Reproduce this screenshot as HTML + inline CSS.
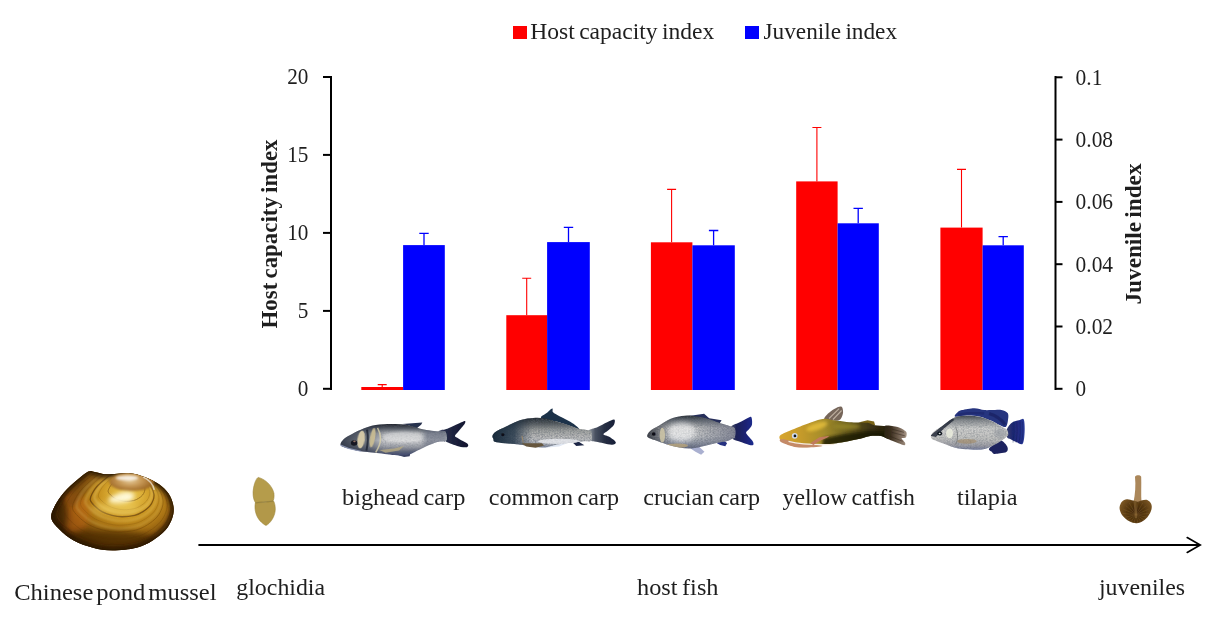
<!DOCTYPE html>
<html lang="en"><head><meta charset="utf-8"><title>Host capacity index and juvenile index</title>
<style>
html,body{margin:0;padding:0;background:#fff;}
body{width:1215px;height:621px;overflow:hidden;}
svg{display:block;}
text{font-family:"Liberation Serif",serif;fill:#1e1e1e;word-spacing:-1.5px;}
.b{font-weight:bold;}
</style></head><body>
<svg width="1215" height="621" viewBox="0 0 1215 621">
<rect width="1215" height="621" fill="#fff"/>

<defs>
<filter id="nz" x="0" y="0" width="100%" height="100%"><feTurbulence type="fractalNoise" baseFrequency="0.07 0.09" numOctaves="2" seed="7"/><feColorMatrix type="matrix" values="0 0 0 0 0.12  0 0 0 0 0.14  0 0 0 0 0.17  1.6 1.6 0 0 -1.35"/></filter>
<filter id="b2" x="-20%" y="-20%" width="140%" height="140%"><feGaussianBlur stdDeviation="2.2"/></filter>
<filter id="b6" x="-30%" y="-30%" width="160%" height="160%"><feGaussianBlur stdDeviation="6"/></filter>
<filter id="b12" x="-40%" y="-40%" width="180%" height="180%"><feGaussianBlur stdDeviation="12"/></filter>
<filter id="b20" x="-50%" y="-50%" width="200%" height="200%"><feGaussianBlur stdDeviation="20"/></filter>
<clipPath id="mclip"><path d="M70.0,360.0 C65.8,335.0 81.7,306.7 95.0,280.0 C108.3,253.3 127.5,225.8 150.0,200.0 C172.5,174.2 205.0,146.3 230.0,125.0 C255.0,103.7 281.7,80.3 300.0,72.0 C318.3,63.7 323.3,72.3 340.0,75.0 C356.7,77.7 376.7,86.3 400.0,88.0 C423.3,89.7 453.3,86.0 480.0,85.0 C506.7,84.0 531.7,78.7 560.0,82.0 C588.3,85.3 620.0,93.7 650.0,105.0 C680.0,116.3 715.0,132.5 740.0,150.0 C765.0,167.5 785.0,186.7 800.0,210.0 C815.0,233.3 826.3,265.0 830.0,290.0 C833.7,315.0 830.3,335.8 822.0,360.0 C813.7,384.2 800.3,411.7 780.0,435.0 C759.7,458.3 730.0,481.7 700.0,500.0 C670.0,518.3 641.7,534.7 600.0,545.0 C558.3,555.3 495.0,562.0 450.0,562.0 C405.0,562.0 370.0,555.3 330.0,545.0 C290.0,534.7 245.0,519.2 210.0,500.0 C175.0,480.8 143.3,453.3 120.0,430.0 C96.7,406.7 74.2,385.0 70.0,360.0Z"/></clipPath>
<radialGradient id="mg" gradientUnits="userSpaceOnUse" cx="540" cy="200" r="470" gradientTransform="translate(0,60) scale(1,0.8)"><stop offset="0" stop-color="#f4dc84" stop-opacity="1"/><stop offset="0.15" stop-color="#e2b840" stop-opacity="1"/><stop offset="0.36" stop-color="#c99420" stop-opacity="1"/><stop offset="0.58" stop-color="#a87214" stop-opacity="1"/><stop offset="0.8" stop-color="#74460a" stop-opacity="1"/><stop offset="1" stop-color="#3a2004" stop-opacity="1"/></radialGradient>
<radialGradient id="ug" gradientUnits="userSpaceOnUse" cx="560" cy="125" r="140" gradientTransform="translate(0,62) scale(1,0.5)"><stop offset="0" stop-color="#e8cfa0" stop-opacity="1"/><stop offset="0.5" stop-color="#c89a58" stop-opacity="1"/><stop offset="1" stop-color="#a06a26" stop-opacity="1"/></radialGradient>
<radialGradient id="jg" gradientUnits="userSpaceOnUse" cx="275" cy="420" r="150"><stop offset="0" stop-color="#3a2206" stop-opacity="1"/><stop offset="0.55" stop-color="#563810" stop-opacity="1"/><stop offset="1" stop-color="#7a5624" stop-opacity="1"/></radialGradient>
<clipPath id="jc"><path d="M130.0,370.0 C132.5,355.8 139.2,336.2 150.0,325.0 C160.8,313.8 178.3,304.7 195.0,303.0 C211.7,301.3 234.2,311.3 250.0,315.0 C265.8,318.7 276.7,325.5 290.0,325.0 C303.3,324.5 315.8,314.5 330.0,312.0 C344.2,309.5 361.7,304.5 375.0,310.0 C388.3,315.5 403.8,330.8 410.0,345.0 C416.2,359.2 416.2,377.5 412.0,395.0 C407.8,412.5 397.0,433.3 385.0,450.0 C373.0,466.7 357.5,483.8 340.0,495.0 C322.5,506.2 300.8,516.2 280.0,517.0 C259.2,517.8 235.0,510.3 215.0,500.0 C195.0,489.7 173.3,470.0 160.0,455.0 C146.7,440.0 140.0,424.2 135.0,410.0 C130.0,395.8 127.5,384.2 130.0,370.0Z"/></clipPath>
<pattern id="sc" width="26" height="22" patternUnits="userSpaceOnUse"><path d="M0,0 Q16,11 0,22 M13,-11 Q29,0 13,11 M13,11 Q29,22 13,33" stroke="#262c34" stroke-width="3.5" fill="none" opacity="0.4"/></pattern>
<clipPath id="c1"><path d="M85.0,365.0 C80.0,353.0 97.5,331.3 110.0,318.0 C122.5,304.7 136.7,298.0 160.0,285.0 C183.3,272.0 215.0,253.7 250.0,240.0 C285.0,226.3 328.3,210.5 370.0,203.0 C411.7,195.5 458.3,195.5 500.0,195.0 C541.7,194.5 583.3,194.5 620.0,200.0 C656.7,205.5 690.0,220.5 720.0,228.0 C750.0,235.5 773.3,240.5 800.0,245.0 C826.7,249.5 858.3,253.8 880.0,255.0 C901.7,256.2 919.2,246.2 930.0,252.0 C940.8,257.8 943.3,277.0 945.0,290.0 C946.7,303.0 952.5,321.7 940.0,330.0 C927.5,338.3 896.7,332.5 870.0,340.0 C843.3,347.5 810.0,361.7 780.0,375.0 C750.0,388.3 711.7,409.5 690.0,420.0 C668.3,430.5 671.7,433.0 650.0,438.0 C628.3,443.0 601.7,451.0 560.0,450.0 C518.3,449.0 451.7,437.8 400.0,432.0 C348.3,426.2 293.3,422.0 250.0,415.0 C206.7,408.0 167.5,398.3 140.0,390.0 C112.5,381.7 90.0,377.0 85.0,365.0Z"/></clipPath>
<linearGradient id="f1" x1="0" y1="0" x2="0" y2="1"><stop offset="0" stop-color="#20252e" stop-opacity="1"/><stop offset="0.12" stop-color="#4c525c" stop-opacity="1"/><stop offset="0.3" stop-color="#a6a9ae" stop-opacity="1"/><stop offset="0.52" stop-color="#cbccce" stop-opacity="1"/><stop offset="0.72" stop-color="#9b9ea6" stop-opacity="1"/><stop offset="0.88" stop-color="#5e6478" stop-opacity="1"/><stop offset="1" stop-color="#3e4668" stop-opacity="1"/></linearGradient>
<linearGradient id="f1h" x1="0" y1="0" x2="1" y2="0"><stop offset="0" stop-color="#1c2434" stop-opacity="0.85"/><stop offset="0.6" stop-color="#2a3244" stop-opacity="0.55"/><stop offset="1" stop-color="#2a3244" stop-opacity="0"/></linearGradient>
<linearGradient id="t1" x1="0" y1="0" x2="1" y2="0"><stop offset="0" stop-color="#70768a" stop-opacity="1"/><stop offset="0.2" stop-color="#262c48" stop-opacity="1"/><stop offset="1" stop-color="#10142e" stop-opacity="1"/></linearGradient>
<clipPath id="c2"><path d="M100.0,290.0 C103.7,280.0 113.3,266.7 130.0,255.0 C146.7,243.3 166.7,235.5 200.0,220.0 C233.3,204.5 291.7,174.5 330.0,162.0 C368.3,149.5 398.3,147.3 430.0,145.0 C461.7,142.7 488.3,143.0 520.0,148.0 C551.7,153.0 586.7,165.5 620.0,175.0 C653.3,184.5 690.0,195.5 720.0,205.0 C750.0,214.5 773.3,225.3 800.0,232.0 C826.7,238.7 862.5,239.5 880.0,245.0 C897.5,250.5 901.7,250.8 905.0,265.0 C908.3,279.2 909.2,318.3 900.0,330.0 C890.8,341.7 873.3,332.5 850.0,335.0 C826.7,337.5 785.0,342.5 760.0,345.0 C735.0,347.5 723.3,346.7 700.0,350.0 C676.7,353.3 648.3,359.2 620.0,365.0 C591.7,370.8 561.7,382.8 530.0,385.0 C498.3,387.2 463.3,381.8 430.0,378.0 C396.7,374.2 368.3,366.7 330.0,362.0 C291.7,357.3 235.0,354.0 200.0,350.0 C165.0,346.0 135.3,343.8 120.0,338.0 C104.7,332.2 111.3,323.0 108.0,315.0 C104.7,307.0 96.3,300.0 100.0,290.0Z"/></clipPath>
<linearGradient id="f2" x1="0" y1="0" x2="0" y2="1"><stop offset="0" stop-color="#1e2630" stop-opacity="1"/><stop offset="0.18" stop-color="#50565a" stop-opacity="1"/><stop offset="0.42" stop-color="#a6a8a6" stop-opacity="1"/><stop offset="0.68" stop-color="#cacaca" stop-opacity="1"/><stop offset="0.88" stop-color="#b4b8c2" stop-opacity="1"/><stop offset="1" stop-color="#7c86a0" stop-opacity="1"/></linearGradient>
<linearGradient id="f2h" x1="0" y1="0" x2="1" y2="0"><stop offset="0" stop-color="#0e2234" stop-opacity="0.95"/><stop offset="0.55" stop-color="#182c40" stop-opacity="0.75"/><stop offset="1" stop-color="#1c2a3c" stop-opacity="0"/></linearGradient>
<linearGradient id="t2" x1="0" y1="0" x2="1" y2="0"><stop offset="0" stop-color="#9aa0a8" stop-opacity="1"/><stop offset="0.25" stop-color="#4a5262" stop-opacity="1"/><stop offset="0.6" stop-color="#262e42" stop-opacity="1"/><stop offset="1" stop-color="#161e38" stop-opacity="1"/></linearGradient>
<clipPath id="c3"><path d="M140.0,285.0 C143.3,275.0 155.0,257.5 170.0,245.0 C185.0,232.5 203.3,225.5 230.0,210.0 C256.7,194.5 298.3,165.3 330.0,152.0 C361.7,138.7 391.7,134.0 420.0,130.0 C448.3,126.0 466.7,124.7 500.0,128.0 C533.3,131.3 583.3,140.5 620.0,150.0 C656.7,159.5 686.7,174.2 720.0,185.0 C753.3,195.8 798.3,206.7 820.0,215.0 C841.7,223.3 845.0,220.8 850.0,235.0 C855.0,249.2 853.3,287.2 850.0,300.0 C846.7,312.8 841.7,306.2 830.0,312.0 C818.3,317.8 801.7,329.0 780.0,335.0 C758.3,341.0 730.0,341.8 700.0,348.0 C670.0,354.2 633.3,364.7 600.0,372.0 C566.7,379.3 533.3,389.8 500.0,392.0 C466.7,394.2 433.3,390.3 400.0,385.0 C366.7,379.7 333.3,370.0 300.0,360.0 C266.7,350.0 225.0,334.2 200.0,325.0 C175.0,315.8 160.0,311.7 150.0,305.0 C140.0,298.3 136.7,295.0 140.0,285.0Z"/></clipPath>
<linearGradient id="f3" x1="0" y1="0" x2="0" y2="1"><stop offset="0" stop-color="#282e38" stop-opacity="1"/><stop offset="0.16" stop-color="#6a7078" stop-opacity="1"/><stop offset="0.38" stop-color="#cccccc" stop-opacity="1"/><stop offset="0.64" stop-color="#cacccf" stop-opacity="1"/><stop offset="0.85" stop-color="#9298a8" stop-opacity="1"/><stop offset="1" stop-color="#646a84" stop-opacity="1"/></linearGradient>
<linearGradient id="f3h" x1="0" y1="0" x2="1" y2="0"><stop offset="0" stop-color="#1a1e28" stop-opacity="0.8"/><stop offset="0.5" stop-color="#2a2e38" stop-opacity="0.45"/><stop offset="1" stop-color="#2a2e38" stop-opacity="0"/></linearGradient>
<linearGradient id="f3r" x1="0" y1="0" x2="1" y2="0"><stop offset="0" stop-color="#6a6e80" stop-opacity="0"/><stop offset="1" stop-color="#585c74" stop-opacity="0.6"/></linearGradient>
<linearGradient id="t3" x1="0" y1="0" x2="1" y2="0"><stop offset="0" stop-color="#4a506c" stop-opacity="1"/><stop offset="0.25" stop-color="#1c2258" stop-opacity="1"/><stop offset="0.7" stop-color="#1a2478" stop-opacity="1"/><stop offset="1" stop-color="#1e2c90" stop-opacity="1"/></linearGradient>
<clipPath id="c4"><path d="M80.0,290.0 C88.0,280.0 110.0,271.7 130.0,262.0 C150.0,252.3 166.7,245.3 200.0,232.0 C233.3,218.7 290.0,195.3 330.0,182.0 C370.0,168.7 408.3,154.8 440.0,152.0 C471.7,149.2 490.0,160.7 520.0,165.0 C550.0,169.3 590.0,175.2 620.0,178.0 C650.0,180.8 671.7,180.8 700.0,182.0 C728.3,183.2 765.0,181.2 790.0,185.0 C815.0,188.8 825.0,200.5 850.0,205.0 C875.0,209.5 919.2,208.7 940.0,212.0 C960.8,215.3 969.2,208.7 975.0,225.0 C980.8,241.3 980.8,296.2 975.0,310.0 C969.2,323.8 952.5,311.0 940.0,308.0 C927.5,305.0 918.3,295.0 900.0,292.0 C881.7,289.0 853.3,287.8 830.0,290.0 C806.7,292.2 781.7,300.0 760.0,305.0 C738.3,310.0 726.7,314.2 700.0,320.0 C673.3,325.8 630.0,334.7 600.0,340.0 C570.0,345.3 546.7,348.7 520.0,352.0 C493.3,355.3 476.7,355.0 440.0,360.0 C403.3,365.0 340.0,379.2 300.0,382.0 C260.0,384.8 231.7,383.2 200.0,377.0 C168.3,370.8 129.7,354.2 110.0,345.0 C90.3,335.8 87.0,331.2 82.0,322.0 C77.0,312.8 72.0,300.0 80.0,290.0Z"/></clipPath>
<linearGradient id="f4" x1="0" y1="0" x2="1" y2="0"><stop offset="0" stop-color="#d8a630" stop-opacity="1"/><stop offset="0.2" stop-color="#c49a2a" stop-opacity="1"/><stop offset="0.4" stop-color="#a48c2a" stop-opacity="1"/><stop offset="0.56" stop-color="#7a6c22" stop-opacity="1"/><stop offset="0.75" stop-color="#4a4016" stop-opacity="1"/><stop offset="0.9" stop-color="#2e2610" stop-opacity="1"/><stop offset="1" stop-color="#2a2210" stop-opacity="1"/></linearGradient>
<linearGradient id="t4" x1="0" y1="0" x2="1" y2="0"><stop offset="0" stop-color="#2a2210" stop-opacity="1"/><stop offset="0.3" stop-color="#3a2e1e" stop-opacity="1"/><stop offset="0.6" stop-color="#6a5a4a" stop-opacity="1"/><stop offset="0.85" stop-color="#8e7c6e" stop-opacity="1"/><stop offset="1" stop-color="#a89888" stop-opacity="1"/></linearGradient>
<clipPath id="c5"><path d="M130.0,285.0 C134.7,275.8 145.0,262.5 160.0,250.0 C175.0,237.5 193.3,228.0 220.0,210.0 C246.7,192.0 286.7,155.7 320.0,142.0 C353.3,128.3 386.7,129.2 420.0,128.0 C453.3,126.8 486.7,128.0 520.0,135.0 C553.3,142.0 590.0,156.7 620.0,170.0 C650.0,183.3 679.2,203.3 700.0,215.0 C720.8,226.7 735.8,229.2 745.0,240.0 C754.2,250.8 755.8,270.0 755.0,280.0 C754.2,290.0 749.2,291.7 740.0,300.0 C730.8,308.3 716.7,319.2 700.0,330.0 C683.3,340.8 660.0,354.7 640.0,365.0 C620.0,375.3 603.3,385.8 580.0,392.0 C556.7,398.2 538.3,402.0 500.0,402.0 C461.7,402.0 395.0,400.3 350.0,392.0 C305.0,383.7 263.3,363.7 230.0,352.0 C196.7,340.3 166.3,329.8 150.0,322.0 C133.7,314.2 135.3,311.2 132.0,305.0 C128.7,298.8 125.3,294.2 130.0,285.0Z"/></clipPath>
<linearGradient id="f5" x1="0" y1="0" x2="0" y2="1"><stop offset="0" stop-color="#424a50" stop-opacity="1"/><stop offset="0.14" stop-color="#8c9094" stop-opacity="1"/><stop offset="0.38" stop-color="#d6d6d4" stop-opacity="1"/><stop offset="0.68" stop-color="#c8c8c6" stop-opacity="1"/><stop offset="0.88" stop-color="#a2a2aa" stop-opacity="1"/><stop offset="1" stop-color="#7880a0" stop-opacity="1"/></linearGradient>
<linearGradient id="t5" x1="0" y1="0" x2="1" y2="0"><stop offset="0" stop-color="#3a4270" stop-opacity="1"/><stop offset="0.3" stop-color="#1e2870" stop-opacity="1"/><stop offset="0.8" stop-color="#222e88" stop-opacity="1"/><stop offset="1" stop-color="#3040a0" stop-opacity="1"/></linearGradient>
</defs>

<rect x="361.3" y="387.0" width="41.8" height="3.0" fill="#ff0000"/>
<rect x="403.1" y="245.1" width="41.7" height="144.9" fill="#0000ff"/>
<path d="M382.2,387.0 V384.6 M377.7,384.6 H386.7" stroke="#ff0000" stroke-width="1.1" fill="none"/>
<path d="M424.0,245.1 V233.4 M419.3,233.4 H428.7" stroke="#0000ff" stroke-width="1.3" fill="none"/>
<rect x="506.3" y="315.2" width="40.8" height="74.8" fill="#ff0000"/>
<rect x="547.1" y="242.1" width="42.7" height="147.9" fill="#0000ff"/>
<path d="M526.7,315.2 V278.3 M522.2,278.3 H531.2" stroke="#ff0000" stroke-width="1.1" fill="none"/>
<path d="M568.5,242.1 V227.4 M563.8,227.4 H573.2" stroke="#0000ff" stroke-width="1.3" fill="none"/>
<rect x="650.9" y="242.3" width="41.5" height="147.7" fill="#ff0000"/>
<rect x="692.4" y="245.3" width="42.4" height="144.7" fill="#0000ff"/>
<path d="M671.6,242.3 V189.4 M667.1,189.4 H676.1" stroke="#ff0000" stroke-width="1.1" fill="none"/>
<path d="M713.6,245.3 V230.5 M708.9,230.5 H718.3" stroke="#0000ff" stroke-width="1.3" fill="none"/>
<rect x="796.2" y="181.4" width="41.4" height="208.6" fill="#ff0000"/>
<rect x="837.6" y="223.3" width="41.2" height="166.7" fill="#0000ff"/>
<path d="M816.9,181.4 V127.5 M812.4,127.5 H821.4" stroke="#ff0000" stroke-width="1.1" fill="none"/>
<path d="M858.2,223.3 V208.3 M853.5,208.3 H862.9" stroke="#0000ff" stroke-width="1.3" fill="none"/>
<rect x="940.4" y="227.6" width="42.2" height="162.4" fill="#ff0000"/>
<rect x="982.6" y="245.3" width="41.2" height="144.7" fill="#0000ff"/>
<path d="M961.5,227.6 V169.4 M957.0,169.4 H966.0" stroke="#ff0000" stroke-width="1.1" fill="none"/>
<path d="M1003.2,245.3 V236.6 M998.5,236.6 H1007.9" stroke="#0000ff" stroke-width="1.3" fill="none"/>
<path d="M331,76 V390" stroke="#000" stroke-width="2" fill="none"/>
<path d="M1055.5,76 V390" stroke="#000" stroke-width="2" fill="none"/>
<path d="M323,77.0 H331" stroke="#000" stroke-width="2"/>
<path d="M323,154.9 H331" stroke="#000" stroke-width="2"/>
<path d="M323,232.9 H331" stroke="#000" stroke-width="2"/>
<path d="M323,310.9 H331" stroke="#000" stroke-width="2"/>
<path d="M323,388.8 H331" stroke="#000" stroke-width="2"/>
<path d="M1055.5,77.3 H1062.5" stroke="#000" stroke-width="2"/>
<path d="M1055.5,139.6 H1062.5" stroke="#000" stroke-width="2"/>
<path d="M1055.5,201.9 H1062.5" stroke="#000" stroke-width="2"/>
<path d="M1055.5,264.2 H1062.5" stroke="#000" stroke-width="2"/>
<path d="M1055.5,326.5 H1062.5" stroke="#000" stroke-width="2"/>
<path d="M1055.5,388.8 H1062.5" stroke="#000" stroke-width="2"/>
<text x="287.2" y="84.4" font-size="22.8" textLength="21.2" lengthAdjust="spacingAndGlyphs">20</text>
<text x="287.2" y="162.3" font-size="22.8" textLength="21.2" lengthAdjust="spacingAndGlyphs">15</text>
<text x="287.2" y="240.3" font-size="22.8" textLength="21.2" lengthAdjust="spacingAndGlyphs">10</text>
<text x="297.8" y="318.2" font-size="22.8" textLength="10.6" lengthAdjust="spacingAndGlyphs">5</text>
<text x="297.8" y="396.2" font-size="22.8" textLength="10.6" lengthAdjust="spacingAndGlyphs">0</text>
<text x="1075.6" y="84.7" font-size="22.8" textLength="26.9" lengthAdjust="spacingAndGlyphs">0.1</text>
<text x="1075.6" y="147.0" font-size="22.8" textLength="37.5" lengthAdjust="spacingAndGlyphs">0.08</text>
<text x="1075.6" y="209.3" font-size="22.8" textLength="37.5" lengthAdjust="spacingAndGlyphs">0.06</text>
<text x="1075.6" y="271.6" font-size="22.8" textLength="37.5" lengthAdjust="spacingAndGlyphs">0.04</text>
<text x="1075.6" y="333.9" font-size="22.8" textLength="37.5" lengthAdjust="spacingAndGlyphs">0.02</text>
<text x="1075.6" y="396.2" font-size="22.8" textLength="10.6" lengthAdjust="spacingAndGlyphs">0</text>
<text class="b" transform="translate(277,328.5) rotate(-90)" font-size="22.5" textLength="189" lengthAdjust="spacingAndGlyphs">Host capacity index</text>
<text class="b" transform="translate(1141,304.5) rotate(-90)" font-size="22.5" textLength="141" lengthAdjust="spacingAndGlyphs">Juvenile index</text>
<rect x="513" y="26" width="14" height="13" fill="#ff0000"/>
<rect x="745" y="26" width="14" height="13" fill="#0000ff"/>
<text x="530.3" y="39" font-size="23" textLength="184" lengthAdjust="spacingAndGlyphs">Host capacity index</text>
<text x="763.5" y="39" font-size="23" textLength="133.6" lengthAdjust="spacingAndGlyphs">Juvenile index</text>
<text x="342.0" y="505.2" font-size="23" textLength="123.4" lengthAdjust="spacingAndGlyphs">bighead carp</text>
<text x="488.7" y="505.2" font-size="23" textLength="130.4" lengthAdjust="spacingAndGlyphs">common carp</text>
<text x="643.2" y="505.2" font-size="23" textLength="117.0" lengthAdjust="spacingAndGlyphs">crucian carp</text>
<text x="782.5" y="505.2" font-size="23" textLength="132.4" lengthAdjust="spacingAndGlyphs">yellow catfish</text>
<text x="956.9" y="505.2" font-size="23" textLength="60.6" lengthAdjust="spacingAndGlyphs">tilapia</text>
<text style="word-spacing:-3px" x="14.2" y="599.5" font-size="23" textLength="202.4" lengthAdjust="spacingAndGlyphs">Chinese pond mussel</text>
<text x="236.3" y="594.5" font-size="23" textLength="88.8" lengthAdjust="spacingAndGlyphs">glochidia</text>
<text x="637" y="594.5" font-size="23" textLength="81.5" lengthAdjust="spacingAndGlyphs">host fish</text>
<text x="1099" y="594.5" font-size="23" textLength="86" lengthAdjust="spacingAndGlyphs">juveniles</text>
<path d="M198.4,545 H1199.5" stroke="#000" stroke-width="2" fill="none"/>
<path d="M1187.2,537.6 L1200.2,545 L1187.2,552.4" stroke="#000" stroke-width="1.7" fill="none" stroke-linejoin="miter" stroke-linecap="round"/>
<g transform="translate(40,460) scale(0.16095)">
<path d="M70.0,360.0 C65.8,335.0 81.7,306.7 95.0,280.0 C108.3,253.3 127.5,225.8 150.0,200.0 C172.5,174.2 205.0,146.3 230.0,125.0 C255.0,103.7 281.7,80.3 300.0,72.0 C318.3,63.7 323.3,72.3 340.0,75.0 C356.7,77.7 376.7,86.3 400.0,88.0 C423.3,89.7 453.3,86.0 480.0,85.0 C506.7,84.0 531.7,78.7 560.0,82.0 C588.3,85.3 620.0,93.7 650.0,105.0 C680.0,116.3 715.0,132.5 740.0,150.0 C765.0,167.5 785.0,186.7 800.0,210.0 C815.0,233.3 826.3,265.0 830.0,290.0 C833.7,315.0 830.3,335.8 822.0,360.0 C813.7,384.2 800.3,411.7 780.0,435.0 C759.7,458.3 730.0,481.7 700.0,500.0 C670.0,518.3 641.7,534.7 600.0,545.0 C558.3,555.3 495.0,562.0 450.0,562.0 C405.0,562.0 370.0,555.3 330.0,545.0 C290.0,534.7 245.0,519.2 210.0,500.0 C175.0,480.8 143.3,453.3 120.0,430.0 C96.7,406.7 74.2,385.0 70.0,360.0Z" fill="url(#mg)"/>
<g clip-path="url(#mclip)">
<ellipse cx="200" cy="330" rx="110" ry="130" fill="#c46a14" opacity="0.55" filter="url(#b20)"/>
<ellipse cx="420" cy="500" rx="300" ry="62" fill="#4a2a06" opacity="0.75" filter="url(#b20)"/>
<ellipse cx="115" cy="340" rx="55" ry="120" fill="#2e1a04" opacity="0.75" filter="url(#b20)"/>
<path d="M250,110 L330,80 L420,95 L330,150 L260,230 L200,300 L160,260Z" fill="#6a3c0c" opacity="0.55" filter="url(#b12)"/>
<path d="M423.5,196.2 C422.2,188.7 427.0,180.2 431.0,172.2 C435.0,164.2 440.8,155.9 447.5,148.2 C454.2,140.4 464.0,132.1 471.5,125.7 C479.0,119.3 487.0,112.3 492.5,109.8 C498.0,107.3 499.5,109.9 504.5,110.7 C509.5,111.5 515.5,114.1 522.5,114.6 C529.5,115.1 538.5,114.0 546.5,113.7 C554.5,113.4 562.0,111.8 570.5,112.8 C579.0,113.8 588.5,116.3 597.5,119.7 C606.5,123.1 617.0,127.9 624.5,133.2 C632.0,138.4 638.0,144.2 642.5,151.2 C647.0,158.2 650.4,167.7 651.5,175.2 C652.6,182.7 651.6,188.9 649.1,196.2 C646.6,203.4 642.6,211.7 636.5,218.7 C630.4,225.7 621.5,232.7 612.5,238.2 C603.5,243.7 595.0,248.6 582.5,251.7 C570.0,254.8 551.0,256.8 537.5,256.8 C524.0,256.8 513.5,254.8 501.5,251.7 C489.5,248.6 476.0,243.9 465.5,238.2 C455.0,232.4 445.5,224.2 438.5,217.2 C431.5,210.2 424.8,203.7 423.5,196.2Z" fill="none" stroke="#5a3408" stroke-width="6" opacity="0.50" filter="url(#b2)"/>
<path d="M362.9,224.3 C361.1,213.8 367.8,201.9 373.4,190.7 C379.0,179.5 387.1,167.9 396.5,157.1 C405.9,146.2 419.6,134.5 430.1,125.6 C440.6,116.6 451.8,106.8 459.5,103.3 C467.2,99.8 469.3,103.5 476.3,104.6 C483.3,105.7 491.7,109.3 501.5,110.0 C511.3,110.7 523.9,109.2 535.1,108.8 C546.3,108.4 556.8,106.1 568.7,107.5 C580.6,108.9 593.9,112.4 606.5,117.2 C619.1,121.9 633.8,128.7 644.3,136.1 C654.8,143.4 663.2,151.5 669.5,161.3 C675.8,171.1 680.6,184.4 682.1,194.9 C683.6,205.4 682.2,214.1 678.7,224.3 C675.2,234.4 669.6,246.0 661.1,255.8 C652.6,265.6 640.1,275.4 627.5,283.1 C614.9,290.8 603.0,297.6 585.5,302.0 C568.0,306.3 541.4,309.1 522.5,309.1 C503.6,309.1 488.9,306.3 472.1,302.0 C455.3,297.6 436.4,291.1 421.7,283.1 C407.0,275.0 393.7,263.5 383.9,253.7 C374.1,243.9 364.6,234.8 362.9,224.3Z" fill="none" stroke="#5a3408" stroke-width="4" opacity="0.30" filter="url(#b2)"/>
<path d="M312.4,247.7 C310.2,234.7 318.5,219.9 325.4,206.1 C332.3,192.2 342.3,177.9 354.0,164.5 C365.7,151.0 382.6,136.6 395.6,125.5 C408.6,114.4 422.5,102.3 432.0,97.9 C441.5,93.6 444.1,98.1 452.8,99.5 C461.5,100.9 471.9,105.4 484.0,106.2 C496.1,107.1 511.7,105.2 525.6,104.7 C539.5,104.2 552.5,101.4 567.2,103.1 C581.9,104.9 598.4,109.2 614.0,115.1 C629.6,121.0 647.8,129.4 660.8,138.5 C673.8,147.6 684.2,157.5 692.0,169.7 C699.8,181.8 705.7,198.3 707.6,211.3 C709.5,224.3 707.8,235.1 703.4,247.7 C699.1,260.2 692.2,274.5 681.6,286.7 C671.0,298.8 655.6,310.9 640.0,320.5 C624.4,330.0 609.7,338.5 588.0,343.9 C566.3,349.3 533.4,352.7 510.0,352.7 C486.6,352.7 468.4,349.3 447.6,343.9 C426.8,338.5 403.4,330.4 385.2,320.5 C367.0,310.5 350.5,296.2 338.4,284.1 C326.3,271.9 314.6,260.7 312.4,247.7Z" fill="none" stroke="#5a3408" stroke-width="8" opacity="0.70" filter="url(#b2)"/>
<path d="M251.8,275.8 C249.1,259.8 259.3,241.6 267.8,224.6 C276.3,207.5 288.6,189.9 303.0,173.4 C317.4,156.8 338.2,139.0 354.2,125.4 C370.2,111.7 387.3,96.8 399.0,91.4 C410.7,86.1 413.9,91.7 424.6,93.4 C435.3,95.1 448.1,100.6 463.0,101.7 C477.9,102.7 497.1,100.4 514.2,99.8 C531.3,99.1 547.3,95.7 565.4,97.8 C583.5,100.0 603.8,105.3 623.0,112.6 C642.2,119.8 664.6,130.2 680.6,141.4 C696.6,152.6 709.4,164.8 719.0,179.8 C728.6,194.7 735.9,215.0 738.2,231.0 C740.5,247.0 738.4,260.3 733.1,275.8 C727.7,291.2 719.2,308.8 706.2,323.8 C693.2,338.7 674.2,353.6 655.0,365.4 C635.8,377.1 617.7,387.5 591.0,394.2 C564.3,400.8 523.8,405.0 495.0,405.0 C466.2,405.0 443.8,400.8 418.2,394.2 C392.6,387.5 363.8,377.6 341.4,365.4 C319.0,353.1 298.7,335.5 283.8,320.6 C268.9,305.6 254.5,291.8 251.8,275.8Z" fill="none" stroke="#5a3408" stroke-width="4" opacity="0.25" filter="url(#b2)"/>
<path d="M201.3,299.2 C198.2,280.7 209.9,259.7 219.8,240.0 C229.7,220.2 243.8,199.9 260.5,180.8 C277.1,161.6 301.2,141.0 319.7,125.3 C338.2,109.5 357.9,92.2 371.5,86.0 C385.1,79.9 388.8,86.3 401.1,88.3 C413.4,90.2 428.2,96.6 445.5,97.9 C462.8,99.1 485.0,96.4 504.7,95.7 C524.4,94.9 542.9,91.0 563.9,93.4 C584.9,95.9 608.3,102.1 630.5,110.5 C652.7,118.8 678.6,130.8 697.1,143.8 C715.6,156.7 730.4,170.9 741.5,188.2 C752.6,205.4 761.0,228.9 763.7,247.4 C766.4,265.9 763.9,281.3 757.8,299.2 C751.6,317.0 741.7,337.4 726.7,354.7 C711.7,371.9 689.7,389.2 667.5,402.8 C645.3,416.3 624.3,428.4 593.5,436.1 C562.7,443.7 515.8,448.6 482.5,448.6 C449.2,448.6 423.3,443.7 393.7,436.1 C364.1,428.4 330.8,416.9 304.9,402.8 C279.0,388.6 255.6,368.2 238.3,351.0 C221.0,333.7 204.4,317.7 201.3,299.2Z" fill="none" stroke="#5a3408" stroke-width="5" opacity="0.40" filter="url(#b2)"/>
<path d="M150.8,322.6 C147.3,301.6 160.6,277.8 171.8,255.4 C183.0,233.0 199.1,209.9 218.0,188.2 C236.9,166.5 264.2,143.1 285.2,125.2 C306.2,107.2 328.6,87.6 344.0,80.6 C359.4,73.6 363.6,80.9 377.6,83.2 C391.6,85.4 408.4,92.7 428.0,94.1 C447.6,95.5 472.8,92.4 495.2,91.6 C517.6,90.7 538.6,86.2 562.4,89.0 C586.2,91.8 612.8,98.8 638.0,108.4 C663.2,117.9 692.6,131.5 713.6,146.2 C734.6,160.9 751.4,177.0 764.0,196.6 C776.6,216.2 786.1,242.8 789.2,263.8 C792.3,284.8 789.5,302.3 782.5,322.6 C775.5,342.9 764.3,366.0 747.2,385.6 C730.1,405.2 705.2,424.8 680.0,440.2 C654.8,455.6 631.0,469.3 596.0,478.0 C561.0,486.6 507.8,492.2 470.0,492.2 C432.2,492.2 402.8,486.6 369.2,478.0 C335.6,469.3 297.8,456.3 268.4,440.2 C239.0,424.1 212.4,401.0 192.8,381.4 C173.2,361.8 154.3,343.6 150.8,322.6Z" fill="none" stroke="#5a3408" stroke-width="5" opacity="0.30" filter="url(#b2)"/>
<path d="M105.3,343.6 C101.5,320.4 116.2,294.0 128.6,269.2 C141.0,244.4 158.8,218.8 179.8,194.8 C200.7,170.8 230.9,144.9 254.1,125.1 C277.4,105.2 302.2,83.5 319.2,75.8 C336.3,68.0 340.9,76.1 356.4,78.6 C371.9,81.1 390.6,89.1 412.2,90.7 C433.9,92.2 461.8,88.8 486.6,87.9 C511.4,86.9 534.7,82.0 561.0,85.1 C587.4,88.2 616.9,95.9 644.8,106.5 C672.6,117.0 705.2,132.0 728.5,148.3 C751.7,164.6 770.3,182.4 784.2,204.1 C798.2,225.8 808.7,255.3 812.1,278.5 C815.6,301.8 812.5,321.1 804.7,343.6 C797.0,366.1 784.6,391.7 765.6,413.4 C746.7,435.1 719.1,456.8 691.2,473.8 C663.4,490.9 637.0,506.1 598.2,515.7 C559.5,525.3 500.6,531.5 458.8,531.5 C416.9,531.5 384.3,525.3 347.1,515.7 C309.9,506.1 268.1,491.6 235.5,473.8 C203.0,456.0 173.5,430.4 151.8,408.7 C130.1,387.0 109.2,366.9 105.3,343.6Z" fill="none" stroke="#5a3408" stroke-width="8" opacity="0.45" filter="url(#b2)"/>
<path d="M337.6,236.0 C335.7,224.2 343.1,210.9 349.4,198.4 C355.7,185.8 364.7,172.9 375.2,160.8 C385.8,148.6 401.1,135.6 412.9,125.5 C424.6,115.5 437.1,104.5 445.8,100.6 C454.4,96.7 456.7,100.8 464.6,102.0 C472.4,103.3 481.8,107.4 492.8,108.1 C503.7,108.9 517.8,107.2 530.4,106.7 C542.9,106.3 554.6,103.8 568.0,105.3 C581.3,106.9 596.1,110.8 610.2,116.1 C624.4,121.5 640.8,129.1 652.5,137.3 C664.3,145.5 673.7,154.5 680.8,165.5 C687.8,176.4 693.1,191.3 694.9,203.1 C696.6,214.8 695.0,224.6 691.1,236.0 C687.2,247.3 680.9,260.3 671.4,271.2 C661.8,282.2 647.9,293.2 633.8,301.8 C619.6,310.4 606.3,318.1 586.8,322.9 C567.2,327.8 537.4,330.9 516.2,330.9 C495.1,330.9 478.7,327.8 459.9,322.9 C441.1,318.1 419.9,310.8 403.5,301.8 C387.0,292.8 372.1,279.8 361.1,268.9 C350.2,257.9 339.6,247.7 337.6,236.0Z" fill="none" stroke="#f4dc80" stroke-width="10" opacity="0.50" filter="url(#b6)"/>
<path d="M282.1,261.7 C279.7,247.2 288.9,230.8 296.6,215.3 C304.3,199.9 315.4,183.9 328.5,168.9 C341.6,153.9 360.4,137.8 374.9,125.4 C389.4,113.0 404.9,99.5 415.5,94.7 C426.1,89.8 429.0,94.9 438.7,96.4 C448.4,98.0 460.0,103.0 473.5,104.0 C487.0,104.9 504.4,102.8 519.9,102.2 C535.4,101.6 549.9,98.5 566.3,100.5 C582.7,102.4 601.1,107.2 618.5,113.8 C635.9,120.4 656.2,129.8 670.7,139.9 C685.2,150.1 696.8,161.2 705.5,174.7 C714.2,188.3 720.8,206.6 722.9,221.1 C725.0,235.6 723.1,247.7 718.3,261.7 C713.4,275.7 705.7,291.7 693.9,305.2 C682.1,318.8 664.9,332.3 647.5,342.9 C630.1,353.6 613.7,363.0 589.5,369.0 C565.3,375.0 528.6,378.9 502.5,378.9 C476.4,378.9 456.1,375.0 432.9,369.0 C409.7,363.0 383.6,354.0 363.3,342.9 C343.0,331.8 324.6,315.9 311.1,302.3 C297.6,288.8 284.5,276.2 282.1,261.7Z" fill="none" stroke="#f4dc80" stroke-width="10" opacity="0.35" filter="url(#b6)"/>
<path d="M226.6,287.5 C223.7,270.2 234.6,250.7 243.8,232.3 C253.0,213.9 266.2,194.9 281.8,177.1 C297.3,159.2 319.7,140.0 337.0,125.3 C354.2,110.6 372.6,94.5 385.2,88.7 C397.9,83.0 401.4,89.0 412.9,90.8 C424.4,92.7 438.1,98.6 454.2,99.8 C470.4,100.9 491.1,98.4 509.4,97.7 C527.9,97.0 545.1,93.3 564.6,95.6 C584.2,97.9 606.0,103.7 626.8,111.5 C647.5,119.3 671.6,130.5 688.9,142.6 C706.1,154.6 719.9,167.9 730.2,184.0 C740.6,200.1 748.4,221.9 751.0,239.2 C753.5,256.4 751.2,270.8 745.4,287.5 C739.7,304.1 730.5,323.1 716.5,339.2 C702.4,355.3 682.0,371.4 661.2,384.1 C640.5,396.7 621.0,408.0 592.2,415.1 C563.5,422.2 519.8,426.8 488.8,426.8 C457.7,426.8 433.6,422.2 406.0,415.1 C378.4,408.0 347.3,397.3 323.1,384.1 C299.0,370.8 277.1,351.9 261.1,335.8 C245.0,319.7 229.4,304.7 226.6,287.5Z" fill="none" stroke="#f4dc80" stroke-width="10" opacity="0.30" filter="url(#b6)"/>
<path d="M70.0,360.0 C65.8,335.0 81.7,306.7 95.0,280.0 C108.3,253.3 127.5,225.8 150.0,200.0 C172.5,174.2 205.0,146.3 230.0,125.0 C255.0,103.7 281.7,80.3 300.0,72.0 C318.3,63.7 323.3,72.3 340.0,75.0 C356.7,77.7 376.7,86.3 400.0,88.0 C423.3,89.7 453.3,86.0 480.0,85.0 C506.7,84.0 531.7,78.7 560.0,82.0 C588.3,85.3 620.0,93.7 650.0,105.0 C680.0,116.3 715.0,132.5 740.0,150.0 C765.0,167.5 785.0,186.7 800.0,210.0 C815.0,233.3 826.3,265.0 830.0,290.0 C833.7,315.0 830.3,335.8 822.0,360.0 C813.7,384.2 800.3,411.7 780.0,435.0 C759.7,458.3 730.0,481.7 700.0,500.0 C670.0,518.3 641.7,534.7 600.0,545.0 C558.3,555.3 495.0,562.0 450.0,562.0 C405.0,562.0 370.0,555.3 330.0,545.0 C290.0,534.7 245.0,519.2 210.0,500.0 C175.0,480.8 143.3,453.3 120.0,430.0 C96.7,406.7 74.2,385.0 70.0,360.0Z" fill="none" stroke="#2c1804" stroke-width="46" opacity="0.85" filter="url(#b12)"/>
<path d="M70.0,360.0 C65.8,335.0 81.7,306.7 95.0,280.0 C108.3,253.3 127.5,225.8 150.0,200.0 C172.5,174.2 205.0,146.3 230.0,125.0 C255.0,103.7 281.7,80.3 300.0,72.0 C318.3,63.7 323.3,72.3 340.0,75.0 C356.7,77.7 376.7,86.3 400.0,88.0 C423.3,89.7 453.3,86.0 480.0,85.0 C506.7,84.0 531.7,78.7 560.0,82.0 C588.3,85.3 620.0,93.7 650.0,105.0 C680.0,116.3 715.0,132.5 740.0,150.0 C765.0,167.5 785.0,186.7 800.0,210.0 C815.0,233.3 826.3,265.0 830.0,290.0 C833.7,315.0 830.3,335.8 822.0,360.0 C813.7,384.2 800.3,411.7 780.0,435.0 C759.7,458.3 730.0,481.7 700.0,500.0 C670.0,518.3 641.7,534.7 600.0,545.0 C558.3,555.3 495.0,562.0 450.0,562.0 C405.0,562.0 370.0,555.3 330.0,545.0 C290.0,534.7 245.0,519.2 210.0,500.0 C175.0,480.8 143.3,453.3 120.0,430.0 C96.7,406.7 74.2,385.0 70.0,360.0Z" fill="none" stroke="#2a1804" stroke-width="10" opacity="0.6" filter="url(#b2)"/>
<ellipse cx="570" cy="135" rx="140" ry="58" fill="url(#ug)" filter="url(#b6)"/>
<ellipse cx="540" cy="112" rx="70" ry="16" fill="#fff" opacity="0.75" filter="url(#b6)"/>
<path d="M640,105 Q700,135 710,185" stroke="#e8e0d0" stroke-width="9" fill="none" opacity="0.8" filter="url(#b2)"/>
<ellipse cx="505" cy="238" rx="80" ry="32" fill="#fffbe0" opacity="0.95" filter="url(#b12)" transform="rotate(-12 505 238)"/>
<ellipse cx="470" cy="300" rx="150" ry="40" fill="#f2d468" opacity="0.5" filter="url(#b20)"/>
</g></g>
<g transform="translate(235,465) scale(0.11274)">
<path d="M205,110 C262,122 330,180 345,250 C350,290 342,312 336,320 L180,333 C160,300 155,250 165,200 C175,150 190,120 205,110Z" fill="#b59c4c" stroke="#9c8438" stroke-width="5" filter="url(#b2)"/>
<path d="M180,338 L345,323 C366,380 360,432 330,482 C312,510 292,530 275,536 C240,520 200,480 186,430 C176,400 175,362 180,338Z" fill="#b29848" stroke="#9c8438" stroke-width="5" filter="url(#b2)"/>
<path d="M180,335 L342,321" stroke="#8a742c" stroke-width="6" filter="url(#b2)"/>
</g>
<g transform="translate(1105,465) scale(0.11274)">
<path d="M266,104 C280,88 310,88 321,104 C324,180 318,260 324,335 L252,335 C268,260 274,180 266,104Z" fill="#ab875a" filter="url(#b2)"/>
<path d="M130.0,370.0 C132.5,355.8 139.2,336.2 150.0,325.0 C160.8,313.8 178.3,304.7 195.0,303.0 C211.7,301.3 234.2,311.3 250.0,315.0 C265.8,318.7 276.7,325.5 290.0,325.0 C303.3,324.5 315.8,314.5 330.0,312.0 C344.2,309.5 361.7,304.5 375.0,310.0 C388.3,315.5 403.8,330.8 410.0,345.0 C416.2,359.2 416.2,377.5 412.0,395.0 C407.8,412.5 397.0,433.3 385.0,450.0 C373.0,466.7 357.5,483.8 340.0,495.0 C322.5,506.2 300.8,516.2 280.0,517.0 C259.2,517.8 235.0,510.3 215.0,500.0 C195.0,489.7 173.3,470.0 160.0,455.0 C146.7,440.0 140.0,424.2 135.0,410.0 C130.0,395.8 127.5,384.2 130.0,370.0Z" fill="url(#jg)" filter="url(#b2)"/>
<g clip-path="url(#jc)">
<path d="M275,440 L296,538" stroke="#8a6630" stroke-width="7" opacity="0.45" filter="url(#b6)"/>
<path d="M275,440 L335,525" stroke="#8a6630" stroke-width="7" opacity="0.45" filter="url(#b6)"/>
<path d="M275,440 L367,501" stroke="#8a6630" stroke-width="7" opacity="0.45" filter="url(#b6)"/>
<path d="M275,440 L388,468" stroke="#8a6630" stroke-width="7" opacity="0.45" filter="url(#b6)"/>
<path d="M275,440 L395,430" stroke="#8a6630" stroke-width="7" opacity="0.45" filter="url(#b6)"/>
<path d="M275,440 L388,392" stroke="#8a6630" stroke-width="7" opacity="0.45" filter="url(#b6)"/>
<path d="M275,440 L367,359" stroke="#8a6630" stroke-width="7" opacity="0.45" filter="url(#b6)"/>
<path d="M275,440 L335,335" stroke="#8a6630" stroke-width="7" opacity="0.45" filter="url(#b6)"/>
<path d="M275,440 L296,322" stroke="#8a6630" stroke-width="7" opacity="0.45" filter="url(#b6)"/>
<path d="M275,440 L254,322" stroke="#8a6630" stroke-width="7" opacity="0.45" filter="url(#b6)"/>
<path d="M275,440 L215,335" stroke="#8a6630" stroke-width="7" opacity="0.45" filter="url(#b6)"/>
<path d="M275,440 L183,359" stroke="#8a6630" stroke-width="7" opacity="0.45" filter="url(#b6)"/>
<path d="M275,440 L162,392" stroke="#8a6630" stroke-width="7" opacity="0.45" filter="url(#b6)"/>
<path d="M275,440 L155,430" stroke="#8a6630" stroke-width="7" opacity="0.45" filter="url(#b6)"/>
<path d="M275,440 L162,468" stroke="#8a6630" stroke-width="7" opacity="0.45" filter="url(#b6)"/>
<path d="M275,440 L183,501" stroke="#8a6630" stroke-width="7" opacity="0.45" filter="url(#b6)"/>
<path d="M275,440 L215,525" stroke="#8a6630" stroke-width="7" opacity="0.45" filter="url(#b6)"/>
<path d="M275,440 L254,538" stroke="#8a6630" stroke-width="7" opacity="0.45" filter="url(#b6)"/>
<path d="M268,300 C270,360 272,420 276,470" stroke="#8a6838" stroke-width="22" opacity="0.55" fill="none" filter="url(#b6)"/>
</g></g>
<g transform="translate(330,400) scale(0.12346)">
<path d="M880.0,252.0 C888.3,240.7 926.7,240.7 950.0,232.0 C973.3,223.3 1000.0,209.0 1020.0,200.0 C1040.0,191.0 1057.7,183.0 1070.0,178.0 C1082.3,173.0 1090.3,168.0 1094.0,170.0 C1097.7,172.0 1096.8,180.8 1092.0,190.0 C1087.2,199.2 1074.5,213.0 1065.0,225.0 C1055.5,237.0 1043.8,250.8 1035.0,262.0 C1026.2,273.2 1011.2,283.7 1012.0,292.0 C1012.8,300.3 1028.7,304.8 1040.0,312.0 C1051.3,319.2 1067.0,327.0 1080.0,335.0 C1093.0,343.0 1113.3,352.2 1118.0,360.0 C1122.7,367.8 1117.7,378.7 1108.0,382.0 C1098.3,385.3 1078.0,383.3 1060.0,380.0 C1042.0,376.7 1018.3,368.3 1000.0,362.0 C981.7,355.7 962.5,346.5 950.0,342.0 C937.5,337.5 933.3,342.0 925.0,335.0 C916.7,328.0 907.5,313.8 900.0,300.0 C892.5,286.2 871.7,263.3 880.0,252.0Z" fill="url(#t1)" filter="url(#b2)"/>
<path d="M585.0,194.0 L748.0,183.0 L738.0,200.0 L700.0,230.0 L640.0,207.0Z" fill="#28304e" filter="url(#b2)"/>
<path d="M555.0,448.0 L652.0,430.0 L645.0,455.0 L600.0,462.0Z" fill="#3a4262" filter="url(#b2)"/>
<path d="M85.0,365.0 C80.0,353.0 97.5,331.3 110.0,318.0 C122.5,304.7 136.7,298.0 160.0,285.0 C183.3,272.0 215.0,253.7 250.0,240.0 C285.0,226.3 328.3,210.5 370.0,203.0 C411.7,195.5 458.3,195.5 500.0,195.0 C541.7,194.5 583.3,194.5 620.0,200.0 C656.7,205.5 690.0,220.5 720.0,228.0 C750.0,235.5 773.3,240.5 800.0,245.0 C826.7,249.5 858.3,253.8 880.0,255.0 C901.7,256.2 919.2,246.2 930.0,252.0 C940.8,257.8 943.3,277.0 945.0,290.0 C946.7,303.0 952.5,321.7 940.0,330.0 C927.5,338.3 896.7,332.5 870.0,340.0 C843.3,347.5 810.0,361.7 780.0,375.0 C750.0,388.3 711.7,409.5 690.0,420.0 C668.3,430.5 671.7,433.0 650.0,438.0 C628.3,443.0 601.7,451.0 560.0,450.0 C518.3,449.0 451.7,437.8 400.0,432.0 C348.3,426.2 293.3,422.0 250.0,415.0 C206.7,408.0 167.5,398.3 140.0,390.0 C112.5,381.7 90.0,377.0 85.0,365.0Z" fill="url(#f1)" filter="url(#b2)"/>
<g clip-path="url(#c1)">
<rect x="420" y="180" width="540" height="280" filter="url(#nz)" opacity="0.3"/>
<rect x="80" y="180" width="360" height="280" fill="url(#f1h)"/>
<ellipse cx="252" cy="320" rx="30" ry="72" fill="#e0d2ac" opacity="0.9" filter="url(#b6)" transform="rotate(8 252 320)"/>
<ellipse cx="345" cy="305" rx="20" ry="80" fill="#cdbf94" opacity="0.9" filter="url(#b6)" transform="rotate(10 345 305)"/>
<path d="M385,225 Q440,320 370,425" stroke="#d8d0a8" stroke-width="12" fill="none" opacity="0.8" filter="url(#b2)"/>
<path d="M300,240 Q315,320 295,410" stroke="#1c2230" stroke-width="16" fill="none" opacity="0.8" filter="url(#b6)"/>
<path d="M400.0,405.0 L520.0,392.0 L600.0,372.0 L560.0,410.0 L450.0,428.0Z" fill="#b4a884" opacity="0.85" filter="url(#b6)"/>
<ellipse cx="600" cy="300" rx="170" ry="45" fill="#eeeeee" opacity="0.5" filter="url(#b12)"/>
<rect x="760" y="200" width="200" height="200" fill="#4a526a" opacity="0.45" filter="url(#b20)"/>
<path d="M420,440 L700,425 L900,340 L940,340 L700,470 Z" fill="#4a5480" opacity="0.4" filter="url(#b12)"/>
</g>
<ellipse cx="195" cy="348" rx="26" ry="22" fill="#141820" filter="url(#b2)"/>
<ellipse cx="198" cy="335" rx="10" ry="7" fill="#b08878" opacity="0.8" filter="url(#b2)"/>
<path d="M85,366 L150,392 L250,415" stroke="#9aa4c4" stroke-width="10" fill="none" opacity="0.8" filter="url(#b2)"/>
</g>
<g transform="translate(480,400) scale(0.12346)">
<path d="M880.0,245.0 C889.2,234.2 925.0,230.8 950.0,220.0 C975.0,209.2 1007.2,190.3 1030.0,180.0 C1052.8,169.7 1077.8,154.7 1087.0,158.0 C1096.2,161.3 1092.8,185.5 1085.0,200.0 C1077.2,214.5 1054.2,232.0 1040.0,245.0 C1025.8,258.0 998.3,268.8 1000.0,278.0 C1001.7,287.2 1033.3,289.3 1050.0,300.0 C1066.7,310.7 1096.7,331.7 1100.0,342.0 C1103.3,352.3 1086.7,360.7 1070.0,362.0 C1053.3,363.3 1021.7,354.0 1000.0,350.0 C978.3,346.0 956.7,341.3 940.0,338.0 C923.3,334.7 907.5,338.8 900.0,330.0 C892.5,321.2 898.3,299.2 895.0,285.0 C891.7,270.8 870.8,255.8 880.0,245.0Z" fill="url(#t2)" filter="url(#b2)"/>
<path d="M495.0,145.0 C481.7,133.3 525.0,117.8 540.0,105.0 C555.0,92.2 576.3,68.8 585.0,68.0 C593.7,67.2 582.8,89.7 592.0,100.0 C601.2,110.3 622.0,120.0 640.0,130.0 C658.0,140.0 680.0,149.2 700.0,160.0 C720.0,170.8 743.0,182.3 760.0,195.0 C777.0,207.7 808.7,234.0 802.0,236.0 C795.3,238.0 750.3,217.2 720.0,207.0 C689.7,196.8 657.5,185.3 620.0,175.0 C582.5,164.7 508.3,156.7 495.0,145.0Z" fill="#1a3048" filter="url(#b2)"/>
<path d="M755.0,348.0 L800.0,338.0 L845.0,366.0 L780.0,372.0Z" fill="#1e2846" filter="url(#b2)"/>
<path d="M100.0,290.0 C103.7,280.0 113.3,266.7 130.0,255.0 C146.7,243.3 166.7,235.5 200.0,220.0 C233.3,204.5 291.7,174.5 330.0,162.0 C368.3,149.5 398.3,147.3 430.0,145.0 C461.7,142.7 488.3,143.0 520.0,148.0 C551.7,153.0 586.7,165.5 620.0,175.0 C653.3,184.5 690.0,195.5 720.0,205.0 C750.0,214.5 773.3,225.3 800.0,232.0 C826.7,238.7 862.5,239.5 880.0,245.0 C897.5,250.5 901.7,250.8 905.0,265.0 C908.3,279.2 909.2,318.3 900.0,330.0 C890.8,341.7 873.3,332.5 850.0,335.0 C826.7,337.5 785.0,342.5 760.0,345.0 C735.0,347.5 723.3,346.7 700.0,350.0 C676.7,353.3 648.3,359.2 620.0,365.0 C591.7,370.8 561.7,382.8 530.0,385.0 C498.3,387.2 463.3,381.8 430.0,378.0 C396.7,374.2 368.3,366.7 330.0,362.0 C291.7,357.3 235.0,354.0 200.0,350.0 C165.0,346.0 135.3,343.8 120.0,338.0 C104.7,332.2 111.3,323.0 108.0,315.0 C104.7,307.0 96.3,300.0 100.0,290.0Z" fill="url(#f2)" filter="url(#b2)"/>
<g clip-path="url(#c2)">
<rect x="100" y="130" width="820" height="270" fill="url(#sc)"/>
<rect x="100" y="130" width="820" height="270" filter="url(#nz)" opacity="0.55"/>
<rect x="95" y="130" width="330" height="270" fill="url(#f2h)"/>
<ellipse cx="640" cy="335" rx="170" ry="22" fill="#f4f6fa" opacity="0.7" filter="url(#b6)"/>
</g>
<path d="M335.0,350.0 L500.0,350.0 L520.0,368.0 L450.0,386.0 L375.0,376.0Z" fill="#66563c" filter="url(#b2)"/>
<path d="M525.0,386.0 L620.0,362.0 L700.0,352.0 L640.0,376.0Z" fill="#dfe6f2" filter="url(#b2)"/>
<ellipse cx="185" cy="282" rx="13" ry="12" fill="#0c1018" filter="url(#b2)"/>
<path d="M340,290 L350,345" stroke="#b09060" stroke-width="8" opacity="0.7" filter="url(#b2)"/>
</g>
<g transform="translate(630,400) scale(0.12346)">
<path d="M820.0,215.0 C826.7,201.7 858.3,196.2 880.0,185.0 C901.7,173.8 933.0,155.8 950.0,148.0 C967.0,140.2 975.7,129.3 982.0,138.0 C988.3,146.7 991.7,183.0 988.0,200.0 C984.3,217.0 968.0,229.2 960.0,240.0 C952.0,250.8 939.2,255.0 940.0,265.0 C940.8,275.0 955.5,287.5 965.0,300.0 C974.5,312.5 992.5,328.8 997.0,340.0 C1001.5,351.2 1003.2,365.0 992.0,367.0 C980.8,369.0 948.7,357.3 930.0,352.0 C911.3,346.7 896.7,341.7 880.0,335.0 C863.3,328.3 836.7,323.7 830.0,312.0 C823.3,300.3 841.7,281.2 840.0,265.0 C838.3,248.8 813.3,228.3 820.0,215.0Z" fill="url(#t3)" filter="url(#b2)"/>
<path d="M475.0,129.0 L600.0,112.0 L642.0,148.0 L742.0,164.0 L724.0,192.0 L620.0,153.0Z" fill="#252e5a" filter="url(#b2)"/>
<path d="M698.0,346.0 L760.0,324.0 L786.0,350.0 L772.0,374.0 L730.0,364.0Z" fill="#263080" filter="url(#b2)"/>
<path d="M488.0,390.0 L560.0,378.0 L603.0,420.0 L576.0,443.0 L530.0,420.0Z" fill="#aab0d0" filter="url(#b2)"/>
<path d="M140.0,285.0 C143.3,275.0 155.0,257.5 170.0,245.0 C185.0,232.5 203.3,225.5 230.0,210.0 C256.7,194.5 298.3,165.3 330.0,152.0 C361.7,138.7 391.7,134.0 420.0,130.0 C448.3,126.0 466.7,124.7 500.0,128.0 C533.3,131.3 583.3,140.5 620.0,150.0 C656.7,159.5 686.7,174.2 720.0,185.0 C753.3,195.8 798.3,206.7 820.0,215.0 C841.7,223.3 845.0,220.8 850.0,235.0 C855.0,249.2 853.3,287.2 850.0,300.0 C846.7,312.8 841.7,306.2 830.0,312.0 C818.3,317.8 801.7,329.0 780.0,335.0 C758.3,341.0 730.0,341.8 700.0,348.0 C670.0,354.2 633.3,364.7 600.0,372.0 C566.7,379.3 533.3,389.8 500.0,392.0 C466.7,394.2 433.3,390.3 400.0,385.0 C366.7,379.7 333.3,370.0 300.0,360.0 C266.7,350.0 225.0,334.2 200.0,325.0 C175.0,315.8 160.0,311.7 150.0,305.0 C140.0,298.3 136.7,295.0 140.0,285.0Z" fill="url(#f3)" filter="url(#b2)"/>
<g clip-path="url(#c3)">
<rect x="140" y="110" width="720" height="300" fill="url(#sc)"/>
<rect x="140" y="110" width="720" height="300" filter="url(#nz)" opacity="0.5"/>
<rect x="135" y="110" width="200" height="300" fill="url(#f3h)"/>
<rect x="520" y="110" width="340" height="300" fill="url(#f3r)"/>
<ellipse cx="420" cy="260" rx="110" ry="80" fill="#fff" opacity="0.55" filter="url(#b20)"/>
<ellipse cx="380" cy="370" rx="90" ry="18" fill="#b8a47a" opacity="0.8" filter="url(#b6)"/>
<ellipse cx="262" cy="285" rx="22" ry="60" fill="#d0c8a8" opacity="0.85" filter="url(#b6)"/>
</g>
<ellipse cx="192" cy="275" rx="15" ry="14" fill="#0c0e14" filter="url(#b2)"/>
</g>
<g transform="translate(770,400) scale(0.12346)">
<path d="M440.0,155.0 C435.0,146.3 456.7,123.8 470.0,110.0 C483.3,96.2 502.2,81.5 520.0,72.0 C537.8,62.5 565.0,48.3 577.0,53.0 C589.0,57.7 592.3,83.8 592.0,100.0 C591.7,116.2 582.8,138.7 575.0,150.0 C567.2,161.3 557.5,166.0 545.0,168.0 C532.5,170.0 517.5,164.2 500.0,162.0 C482.5,159.8 445.0,163.7 440.0,155.0Z" fill="#76665a" filter="url(#b2)"/>
<path d="M478,150 L560,70 M510,158 L580,85" stroke="#cdbfae" stroke-width="9" opacity="0.8" filter="url(#b2)"/>
<path d="M715.0,183.0 L790.0,164.0 L843.0,174.0 L852.0,206.0 L780.0,192.0Z" fill="#7a6418" filter="url(#b2)"/>
<path d="M80.0,290.0 C88.0,280.0 110.0,271.7 130.0,262.0 C150.0,252.3 166.7,245.3 200.0,232.0 C233.3,218.7 290.0,195.3 330.0,182.0 C370.0,168.7 408.3,154.8 440.0,152.0 C471.7,149.2 490.0,160.7 520.0,165.0 C550.0,169.3 590.0,175.2 620.0,178.0 C650.0,180.8 671.7,180.8 700.0,182.0 C728.3,183.2 765.0,181.2 790.0,185.0 C815.0,188.8 825.0,200.5 850.0,205.0 C875.0,209.5 919.2,208.7 940.0,212.0 C960.8,215.3 969.2,208.7 975.0,225.0 C980.8,241.3 980.8,296.2 975.0,310.0 C969.2,323.8 952.5,311.0 940.0,308.0 C927.5,305.0 918.3,295.0 900.0,292.0 C881.7,289.0 853.3,287.8 830.0,290.0 C806.7,292.2 781.7,300.0 760.0,305.0 C738.3,310.0 726.7,314.2 700.0,320.0 C673.3,325.8 630.0,334.7 600.0,340.0 C570.0,345.3 546.7,348.7 520.0,352.0 C493.3,355.3 476.7,355.0 440.0,360.0 C403.3,365.0 340.0,379.2 300.0,382.0 C260.0,384.8 231.7,383.2 200.0,377.0 C168.3,370.8 129.7,354.2 110.0,345.0 C90.3,335.8 87.0,331.2 82.0,322.0 C77.0,312.8 72.0,300.0 80.0,290.0Z" fill="url(#f4)" filter="url(#b2)"/>
<g clip-path="url(#c4)">
<path d="M430,310 L600,275 L800,250 L1000,260 L1000,340 L420,380Z" fill="#161206" opacity="0.8" filter="url(#b12)"/>
<ellipse cx="380" cy="215" rx="90" ry="28" fill="#f0c840" opacity="0.7" filter="url(#b12)" transform="rotate(-18 380 215)"/>
<ellipse cx="620" cy="215" rx="110" ry="22" fill="#9a8a2a" opacity="0.7" filter="url(#b12)"/>
</g>
<path d="M930.0,210.0 C942.5,203.7 980.8,210.0 1000.0,212.0 C1019.2,214.0 1031.3,217.3 1045.0,222.0 C1058.7,226.7 1071.8,233.0 1082.0,240.0 C1092.2,247.0 1103.0,253.3 1106.0,264.0 C1109.0,274.7 1106.7,296.3 1100.0,304.0 C1093.3,311.7 1067.0,303.0 1066.0,310.0 C1065.0,317.0 1090.3,336.7 1094.0,346.0 C1097.7,355.3 1097.0,365.3 1088.0,366.0 C1079.0,366.7 1056.3,356.0 1040.0,350.0 C1023.7,344.0 1005.8,336.3 990.0,330.0 C974.2,323.7 955.8,318.3 945.0,312.0 C934.2,305.7 928.3,302.3 925.0,292.0 C921.7,281.7 924.2,263.7 925.0,250.0 C925.8,236.3 917.5,216.3 930.0,210.0Z" fill="url(#t4)" filter="url(#b2)"/>
<path d="M985,235 L1085,262 M985,262 L1092,290 M975,295 L1075,335" stroke="#2a2014" stroke-width="8" opacity="0.45" filter="url(#b2)"/>
<path d="M80.0,322.0 C75.0,326.2 80.0,337.3 100.0,347.0 C120.0,356.7 166.7,373.7 200.0,380.0 C233.3,386.3 262.5,386.3 300.0,385.0 C337.5,383.7 420.0,376.2 425.0,372.0 C430.0,367.8 364.2,364.0 330.0,360.0 C295.8,356.0 253.3,354.3 220.0,348.0 C186.7,341.7 153.3,326.3 130.0,322.0 C106.7,317.7 85.0,317.8 80.0,322.0Z" fill="#c48a68" filter="url(#b2)"/>
<path d="M150,335 Q280,368 520,360" stroke="#f6ece0" stroke-width="9" fill="none" filter="url(#b2)"/>
<path d="M325.0,350.0 L400.0,302.0 L482.0,290.0 L462.0,306.0 L400.0,332.0 L352.0,364.0Z" fill="#c07a5c" filter="url(#b2)"/>
<circle cx="200" cy="290" r="23" fill="#d4dcea" filter="url(#b2)"/>
<circle cx="202" cy="291" r="11" fill="#10121a" filter="url(#b2)"/>
</g>
<g transform="translate(915,400) scale(0.12346)">
<path d="M745.0,235.0 C752.5,215.0 772.5,192.2 790.0,180.0 C807.5,167.8 834.7,165.3 850.0,162.0 C865.3,158.7 875.7,143.7 882.0,160.0 C888.3,176.3 889.7,227.5 888.0,260.0 C886.3,292.5 883.3,341.7 872.0,355.0 C860.7,368.3 836.2,346.2 820.0,340.0 C803.8,333.8 787.5,324.7 775.0,318.0 C762.5,311.3 750.0,313.8 745.0,300.0 C740.0,286.2 737.5,255.0 745.0,235.0Z" fill="url(#t5)" filter="url(#b2)"/>
<path d="M800,175 Q808,260 794,345" stroke="#141c5c" stroke-width="7" fill="none" opacity="0.5" filter="url(#b2)"/>
<path d="M825,175 Q833,260 819,345" stroke="#141c5c" stroke-width="7" fill="none" opacity="0.5" filter="url(#b2)"/>
<path d="M850,175 Q858,260 844,345" stroke="#141c5c" stroke-width="7" fill="none" opacity="0.5" filter="url(#b2)"/>
<path d="M872,175 Q880,260 866,345" stroke="#141c5c" stroke-width="7" fill="none" opacity="0.5" filter="url(#b2)"/>
<path d="M325.0,135.0 C312.5,130.7 335.8,108.8 345.0,100.0 C354.2,91.2 357.5,87.7 380.0,82.0 C402.5,76.3 450.0,66.0 480.0,66.0 C510.0,66.0 536.7,79.3 560.0,82.0 C583.3,84.7 596.7,82.3 620.0,82.0 C643.3,81.7 678.0,75.7 700.0,80.0 C722.0,84.3 743.3,93.0 752.0,108.0 C760.7,123.0 754.8,151.7 752.0,170.0 C749.2,188.3 745.3,212.2 735.0,218.0 C724.7,223.8 709.2,213.3 690.0,205.0 C670.8,196.7 648.3,180.0 620.0,168.0 C591.7,156.0 553.3,140.0 520.0,133.0 C486.7,126.0 452.5,125.7 420.0,126.0 C387.5,126.3 337.5,139.3 325.0,135.0Z" fill="#28347f" filter="url(#b2)"/>
<path d="M600,110 Q680,130 730,200" stroke="#161e5c" stroke-width="26" fill="none" opacity="0.6" filter="url(#b6)"/>
<path d="M350,120 Q450,95 560,110" stroke="#1a2266" stroke-width="20" fill="none" opacity="0.5" filter="url(#b6)"/>
<path d="M600.0,395.0 C606.3,382.5 643.3,356.2 660.0,345.0 C676.7,333.8 685.3,322.5 700.0,328.0 C714.7,333.5 741.0,362.7 748.0,378.0 C755.0,393.3 751.7,411.0 742.0,420.0 C732.3,429.0 707.0,429.2 690.0,432.0 C673.0,434.8 651.3,439.0 640.0,437.0 C628.7,435.0 628.7,427.0 622.0,420.0 C615.3,413.0 593.7,407.5 600.0,395.0Z" fill="#1c245e" filter="url(#b2)"/>
<path d="M130.0,285.0 C134.7,275.8 145.0,262.5 160.0,250.0 C175.0,237.5 193.3,228.0 220.0,210.0 C246.7,192.0 286.7,155.7 320.0,142.0 C353.3,128.3 386.7,129.2 420.0,128.0 C453.3,126.8 486.7,128.0 520.0,135.0 C553.3,142.0 590.0,156.7 620.0,170.0 C650.0,183.3 679.2,203.3 700.0,215.0 C720.8,226.7 735.8,229.2 745.0,240.0 C754.2,250.8 755.8,270.0 755.0,280.0 C754.2,290.0 749.2,291.7 740.0,300.0 C730.8,308.3 716.7,319.2 700.0,330.0 C683.3,340.8 660.0,354.7 640.0,365.0 C620.0,375.3 603.3,385.8 580.0,392.0 C556.7,398.2 538.3,402.0 500.0,402.0 C461.7,402.0 395.0,400.3 350.0,392.0 C305.0,383.7 263.3,363.7 230.0,352.0 C196.7,340.3 166.3,329.8 150.0,322.0 C133.7,314.2 135.3,311.2 132.0,305.0 C128.7,298.8 125.3,294.2 130.0,285.0Z" fill="url(#f5)" filter="url(#b2)"/>
<g clip-path="url(#c5)">
<rect x="130" y="110" width="640" height="300" fill="url(#sc)" opacity="0.6"/>
<rect x="130" y="110" width="640" height="300" filter="url(#nz)" opacity="0.4"/>
<path d="M122,290 L250,185 L300,150 L320,160 L230,235 L170,300Z" fill="#1c2230" opacity="0.8" filter="url(#b6)"/>
<ellipse cx="420" cy="335" rx="80" ry="20" fill="#a08864" opacity="0.6" filter="url(#b6)"/>
<ellipse cx="280" cy="270" rx="28" ry="40" fill="#eef0e0" opacity="0.8" filter="url(#b6)"/>
<path d="M330,220 Q360,290 330,360" stroke="#6a6e70" stroke-width="8" fill="none" opacity="0.7" filter="url(#b2)"/>
<ellipse cx="690" cy="270" rx="50" ry="40" fill="#8a9098" opacity="0.5" filter="url(#b12)"/>
</g>
<ellipse cx="200" cy="272" rx="20" ry="16" fill="#10141c" filter="url(#b2)"/>
<ellipse cx="200" cy="272" rx="8" ry="6" fill="#e8e8e8" filter="url(#b2)"/>
</g>
</svg></body></html>
